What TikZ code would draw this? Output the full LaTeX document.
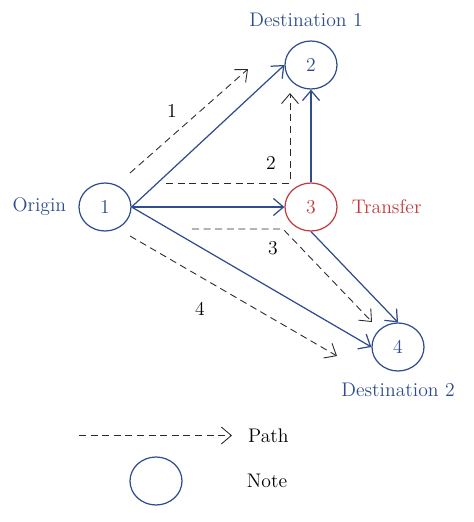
\documentclass[tikz,border=0pt]{standalone}
\usepackage{tikz}
\usetikzlibrary{shapes.geometric, arrows.meta, positioning}
\definecolor{netblue}{HTML}{2E4C8E}
\definecolor{netred}{HTML}{C3393D}
\definecolor{pathgray}{HTML}{2A2A2A}
\tikzstyle{stop} = [ellipse, minimum width=1.04cm, minimum height=0.96cm, inner sep=0pt, draw=netblue, line width=0.7pt, text=netblue]
\tikzstyle{link} = [netblue, line width=0.7pt, -{Straight Barb[length=0.2cm, width=0.34cm]}]
\tikzstyle{route} = [pathgray, line width=0.5pt, dash pattern=on 4pt off 2.6pt, -{Straight Barb[length=0.2cm, width=0.34cm]}]
\tikzstyle{tag} = [text=netblue]

\begin{document}
\begin{tikzpicture}[x=0.02cm, y=-0.02cm, font=\fontsize{11.2}{13}\selectfont]
        \useasboundingbox (0,0) rectangle (474,522);
        \node (origin) [stop] at (105,207) {1};
        \node (dest1) [stop] at (311,65) {2};
        \node (transfer) [stop, draw=netred, text=netred] at (311,207) {3};
        \node (dest2) [stop] at (398,347) {4};
        \node (lorigin) [tag, left=0.12cm of origin] {Origin};
        \node (ldest1) [tag, above=0.15cm of dest1, xshift=-0.1cm] {Destination 1};
        \node (ltransfer) [tag, right=0.16cm of transfer, text=netred] {Transfer};
        \node (ldest2) [tag, below=0.1cm of dest2] {Destination 2};

        \draw [link] (origin.east) -- (dest1.west);
        \draw [link] (origin.east) -- (transfer.west);
        \draw [link] (origin.east) -- (dest2.west);
        \draw [link] (transfer.north) -- (dest1.south);
        \draw [link] (transfer.south) -- (dest2.north);

        % alternative routes
        \coordinate (r1a) at (130,173);
        \coordinate (r1b) at (248,69);
        \coordinate (r2a) at (166,183);
        \coordinate (r2b) at (290,183);
        \coordinate (r2c) at (290,93);
        \coordinate (r3a) at (192,229);
        \coordinate (r3b) at (283,229);
        \coordinate (r3c) at (372,322);
        \coordinate (r4a) at (130,236);
        \coordinate (r4b) at (337,356);
        \draw [route] (r1a) -- (r1b);
        \draw [route] (r2a) -- (r2b) -- (r2c);
        \draw [route] (r3a) -- (r3b) -- (r3c);
        \draw [route] (r4a) -- (r4b);
        \node (n1) at (172,111) {1};
        \node (n2) at (271,163) {2};
        \node (n3) at (273,248) {3};
        \node (n4) at (200,309) {4};

        % legend
        \coordinate (lega) at (79,435.5);
        \coordinate (legb) at (232,435.5);
        \draw [route] (lega) -- (legb);
        \node (lpath) [right=0.2cm of legb] {Path};
        \node (legnode) [stop, text=black] at (156,481) {};
        \node (lnote) at (267,481) {Note};
    \end{tikzpicture}
\end{document}
